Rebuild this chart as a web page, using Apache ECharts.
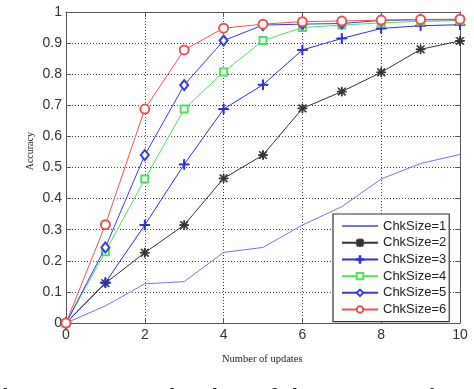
<!DOCTYPE html>
<html><head><meta charset="utf-8">
<script src="https://cdn.jsdelivr.net/npm/echarts@6/dist/echarts.min.js"></script>
<style>html,body{margin:0;padding:0;background:#fff}#c{width:474px;height:389px}</style>
</head><body><div id="c"></div>
<script>
const xValues = [0,1,2,3,4,5,6,7,8,9,10];
const seriesNames = ['ChkSize=1','ChkSize=2','ChkSize=3','ChkSize=4','ChkSize=5','ChkSize=6'];
const chk1 = [0,0.055,0.126,0.133,0.227,0.243,0.315,0.374,0.463,0.513,0.542];
const chk2 = [0,0.128,0.226,0.315,0.465,0.540,0.690,0.744,0.806,0.880,0.907];
const chk3 = [0,0.130,0.315,0.510,0.688,0.766,0.878,0.915,0.947,0.956,0.959];
const chk4 = [0,0.229,0.463,0.688,0.807,0.908,0.950,0.958,0.965,0.970,0.972];
const chk5 = [0,0.243,0.540,0.765,0.908,0.958,0.961,0.963,0.973,0.975,0.975];
const chk6 = [0,0.316,0.688,0.878,0.948,0.961,0.969,0.971,0.974,0.976,0.977];
const xTicks = [0,2,4,6,8,10];
const yTicks = [0,0.1,0.2,0.3,0.4,0.5,0.6,0.7,0.8,0.9,1];
const xTitle = 'Number of updates';
const yTitle = 'Accuracy';
const caption = 'l accuracy Evaluation of the proposed OIELM based on';

const allData = [chk1,chk2,chk3,chk4,chk5,chk6];
const colors = ['#7474de','#333333','#2f2fd4','#4fe060','#3c3cd8','#e65555'];
const STAR = 'path://M4.55,0h0.9v10h-0.9z M0,4.55h10v0.9h-10z M1.3,0.65L9.35,8.7L8.7,9.35L0.65,1.3z M8.7,0.65L9.35,1.3L1.3,9.35L0.65,8.7z';
const PLUS = 'path://M4.5,0h1v10h-1z M0,4.5h10v1h-10z';
const symbols = ['none', STAR, PLUS, 'emptyRect', 'emptyDiamond', 'emptyCircle'];
const sizes = [0, 9, 10, 7, [8,10], 9];

const chart = echarts.init(document.getElementById('c'), null, {renderer:'canvas'});
const axisCommon = {
  type:'value', min:0,
  axisLine:{show:true, onZero:false, lineStyle:{color:'#555', width:1}},
  axisTick:{show:true, inside:true, length:5, lineStyle:{color:'#555'}},
};
chart.setOption({
  animation:false,
  backgroundColor:'#fff',
  grid:{left:66, right:14, top:12, bottom:66, show:false},
  xAxis:[
    Object.assign({}, axisCommon, {max:10, interval:2, position:'bottom',
      axisLabel:{fontSize:14, color:'#333', fontFamily:'Liberation Sans, Arial', margin:5},
      splitLine:{show:true, lineStyle:{type:[1,2], color:'#444', width:1}}}),
    Object.assign({}, axisCommon, {max:10, interval:2, position:'top',
      axisLabel:{show:false}, splitLine:{show:false}})
  ],
  yAxis:[
    Object.assign({}, axisCommon, {max:1, interval:0.1, position:'left',
      axisLabel:{fontSize:14, color:'#333', fontFamily:'Liberation Sans, Arial', margin:4,
        formatter:v=>String(+v.toFixed(1))},
      splitLine:{show:true, lineStyle:{type:[1,2], color:'#444', width:1}}}),
    Object.assign({}, axisCommon, {max:1, interval:0.1, position:'right',
      axisLabel:{show:false}, splitLine:{show:false}})
  ],
  legend:{
    orient:'vertical', left:333, top:214,
    data:seriesNames.map((n,i)=> i===0 ? {name:n, itemStyle:{opacity:0}} : {name:n}),
    itemWidth:36, itemHeight:8, itemGap:2.6,
    padding:[5,3,5,8],
    backgroundColor:'#fff', borderColor:'#333', borderWidth:1.2, borderRadius:0,
    textStyle:{fontSize:13, color:'#222', fontFamily:'Liberation Sans, Arial', lineHeight:14.1}
  },
  graphic:[
    {type:'text', left:25, top:132, rotation:Math.PI/2,
      style:{text:yTitle, font:'10px "Liberation Serif", serif', fill:'#222'}},
    {type:'text', left:222, top:354,
      style:{text:xTitle, font:'10.5px "Liberation Serif", serif', fill:'#222'}},
    {type:'text', left:2, top:387,
      style:{text:caption, font:'bold 24px "Liberation Sans", Arial', fill:'#222'}}
  ],
  series: allData.map((d,i)=>({
    name:seriesNames[i], type:'line',
    data:xValues.map((x,j)=>[x,d[j]]),
    symbol:symbols[i], symbolSize:sizes[i], showSymbol:i>0,
    lineStyle:{color:colors[i], width:1},
    itemStyle:{color:colors[i], borderColor:colors[i], borderWidth:1},
    emphasis:{disabled:true},
    z:2+i
  }))
});
</script></body></html>
